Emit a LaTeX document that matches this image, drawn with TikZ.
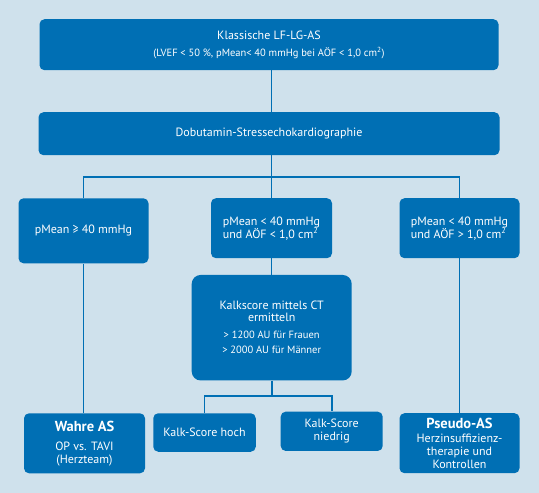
\documentclass[tikz,border=0pt]{standalone}
\usepackage{fontspec}
\setmainfont{PT Sans}
\usetikzlibrary{positioning,calc}
\definecolor{boxBlue}{HTML}{006FB4}
\definecolor{paleBlue}{HTML}{CFE1EC}
\newcommand{\boxfont}{\fontsize{12}{13}\selectfont}
\newcommand{\notefont}{\fontsize{10.5}{11}\selectfont}
\newcommand{\headfont}{\fontsize{14.5}{15}\selectfont\bfseries}
\tikzset{
    stepbox/.style={fill=boxBlue,rounded corners=5pt,text=white,
        align=center,inner sep=3pt,font=\boxfont},
    leftbox/.style={stepbox,align=left},
    link/.style={draw=boxBlue,line width=1.8pt}
}

\begin{document}
\begin{tikzpicture}[x=1pt,y=-1pt]
        \fill[paleBlue] (0,0) rectangle (539,493);
        \useasboundingbox (0,0) rectangle (539,493);
        \node[stepbox,minimum width=459pt,minimum height=51pt] (klass) at (269,44.7)
            {Klassische LF-LG-AS\\[4pt]{\notefont (LVEF < 50 \%, pMean< 40 mmHg bei AÖF < 1,0 cm\textsuperscript{2})}};
        \node[stepbox,minimum width=461pt,minimum height=43pt] (dobu) at (269,133.7) {Dobutamin-Stressechokardiographie};
        \node[stepbox,minimum width=130pt,minimum height=65pt] (high) at (83.5,230.8) {pMean ≥ 40 mmHg};
        \node[leftbox,minimum width=121pt,minimum height=60pt] (lowsmall) at (271.5,228.2)
            {pMean < 40 mmHg\\und AÖF < 1,0 cm\textsuperscript{2}};
        \node[leftbox,minimum width=120pt,minimum height=60pt] (lowlarge) at (459.5,228.2)
            {pMean < 40 mmHg\\und AÖF > 1,0 cm\textsuperscript{2}};
        \node[stepbox,rounded corners=9pt,minimum width=160pt,minimum height=105.5pt] (kalk) at (271.7,327.7)
            {Kalkscore mittels CT\\[-1pt]ermitteln\\[4pt]{\notefont > 1200 AU für Frauen}\\[2pt]{\notefont > 2000 AU für Männer}};
        \node[stepbox,minimum width=102.5pt,minimum height=38.5pt] (hoch) at (204.5,432.5) {Kalk-Score hoch};
        \node[stepbox,minimum width=102pt,minimum height=39.3pt] (niedrig) at (331.7,431.3) {Kalk-Score\\niedrig};
        \node[stepbox,minimum width=121pt,minimum height=60pt] (wahre) at (84.5,443.3)
            {{\headfont Wahre AS}\\[6pt]OP vs. TAVI\\(Herzteam)};
        \node[stepbox,minimum width=120pt,minimum height=60pt] (pseudo) at (459.5,443.2)
            {{\headfont Pseudo-AS}\\[1pt]Herzinsuffizienz-\\therapie und\\Kontrollen};
        \coordinate (bus) at (271.5,176.7);
        \coordinate (split) at (271.7,396);
        \draw[link] (klass.south -| lowsmall) -- (dobu.north -| lowsmall);
        \draw[link] (dobu.south -| lowsmall) -- (lowsmall.north);
        \draw[link] (high.north) |- (bus) -| (lowlarge.north);
        \draw[link] (high.south) -- (high.south |- wahre.north);
        \draw[link] (lowlarge.south) -- (pseudo.north);
        \draw[link] (lowsmall.south) -- (lowsmall.south |- kalk.north);
        \draw[link] (kalk.south -| split) -- (split);
        \draw[link] (hoch.north) |- (split) -| (niedrig.north);
    \end{tikzpicture}
\end{document}
